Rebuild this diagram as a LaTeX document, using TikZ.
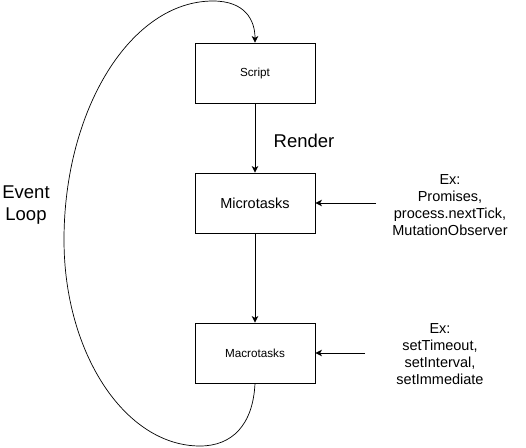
\documentclass[tikz,border=0pt]{standalone}
\usepackage{fontspec}
\setmainfont{Liberation Sans}
\usetikzlibrary{arrows.meta}
\begin{document}
\begin{tikzpicture}[x=1pt,y=-1pt,>={Stealth[length=6.5pt,width=6.5pt,inset=1.8pt]},
  task/.style={draw,line width=0.9pt,minimum width=120pt,minimum height=60pt,inner sep=0pt},
  small/.style={font=\fontsize{11.7}{14}\selectfont},
  mid/.style={font=\fontsize{14.5}{17}\selectfont},
  big/.style={font=\fontsize{18.5}{22}\selectfont}]
  \useasboundingbox (0,0) rectangle (526,447);
  \node[task,small] (script) at (255,73) {Script};
  \node[task,mid] (micro) at (255,203) {Microtasks};
  \node[task,small] (macro) at (255,353) {Macrotasks};
  \node[big] (render) at (304,141) {Render};
  \node[big,align=center] (loop) at (26,205) {Event\\Loop};
  \node[mid,align=center] (exmicro) at (450,205.5) {Ex:\\Promises,\\process.nextTick,\\MutationObserver};
  \node[mid,align=center] (exmacro) at (440,354) {Ex:\\setTimeout,\\setInterval,\\setImmediate};
  \coordinate (inmicro) at (376,203);
  \coordinate (inmacro) at (365,353);
  \coordinate (bottom) at (200,446);
  \coordinate (left) at (64,240);
  \coordinate (top) at (213,1);
  \draw[->,line width=0.9pt] (script) -- (micro);
  \draw[->,line width=0.9pt] (micro) -- (macro);
  \draw[->,line width=0.9pt] (inmicro) -- (micro);
  \draw[->,line width=0.9pt] (inmacro) -- (macro);
  \draw[->,line width=0.7pt] (macro.south) .. controls (253,425) and (232,446) .. (bottom)
    .. controls (125,446) and (64,353) .. (left)
    .. controls (64,109) and (131,1) .. (top)
    .. controls (245,1) and (255,20) .. (script.north);
\end{tikzpicture}
\end{document}
